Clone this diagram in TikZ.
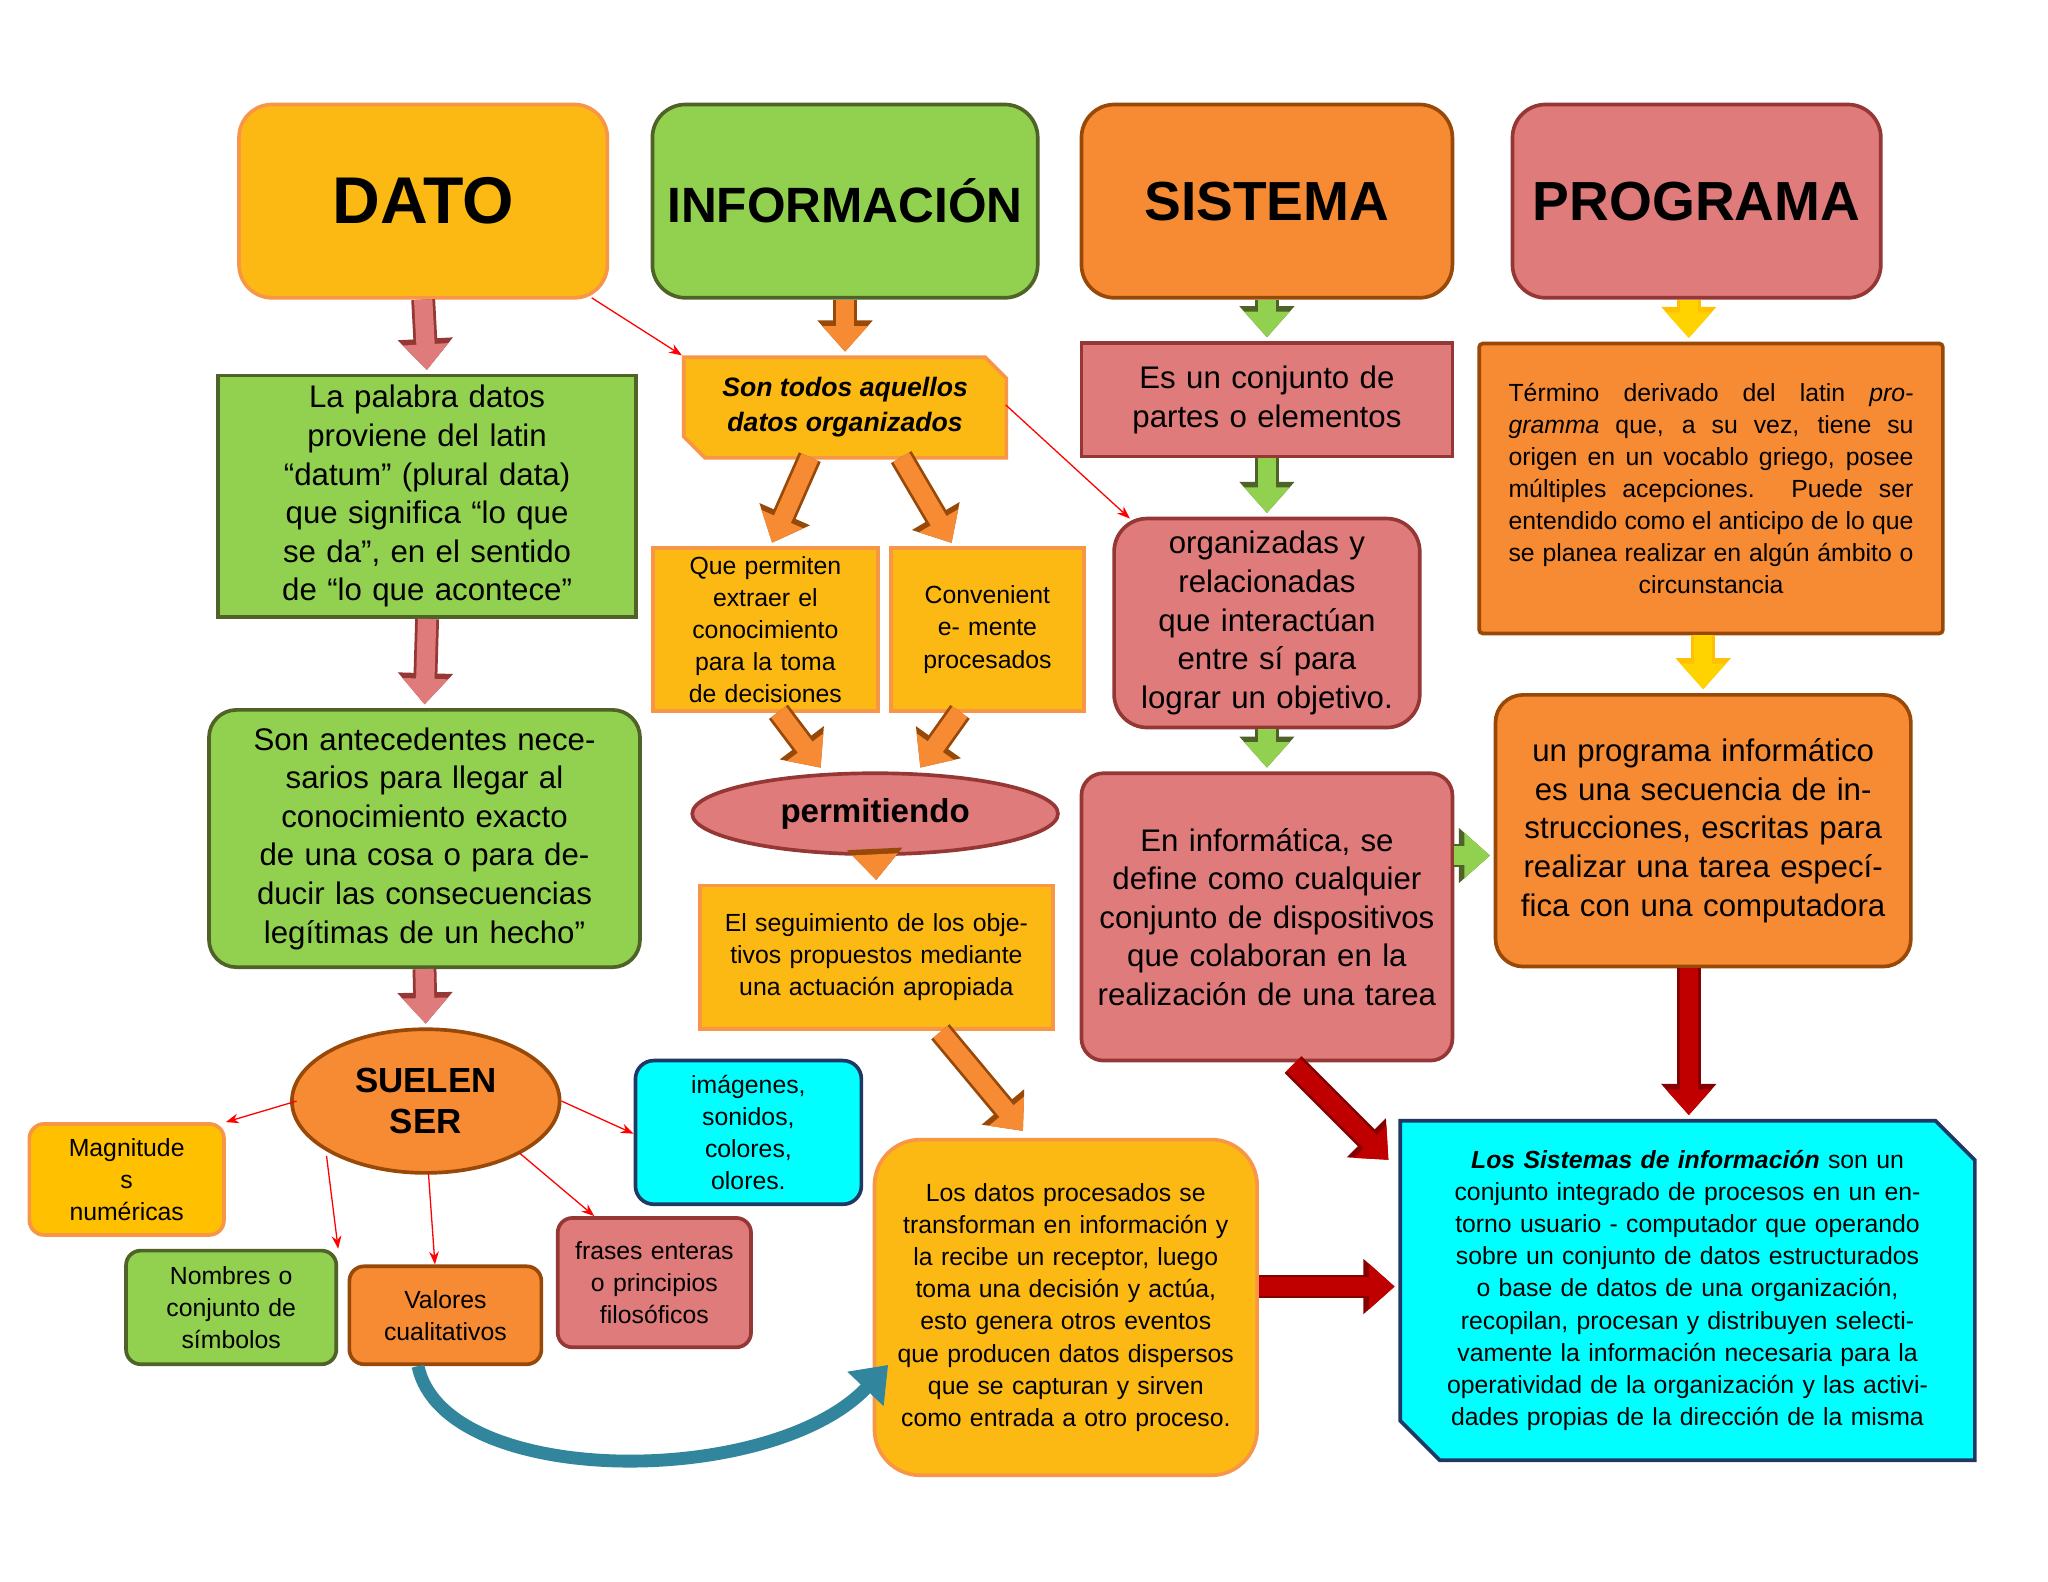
\documentclass[tikz,border=0pt]{standalone}
\usepackage{fontspec}
\setmainfont{Liberation Sans}
\usetikzlibrary{shapes.geometric,shapes.misc,arrows.meta}
\definecolor{cyel}{HTML}{FDB913}
\definecolor{corl}{HTML}{F79646}
\definecolor{cgrn}{HTML}{92D050}
\definecolor{cdgr}{HTML}{4F6228}
\definecolor{corg}{HTML}{F68B33}
\definecolor{cdor}{HTML}{984807}
\definecolor{cpnk}{HTML}{E07B7B}
\definecolor{cdrd}{HTML}{953735}
\definecolor{ccyn}{HTML}{00FFFF}
\definecolor{cdbl}{HTML}{1F3864}
\definecolor{cred}{HTML}{C00000}
\definecolor{cteal}{HTML}{31859C}
\definecolor{cgold}{HTML}{FFC000}
\tikzset{
 x=0.025cm, y=-0.025cm,
 bx/.style 2 args={minimum width=#1*0.025cm, minimum height=#2*0.025cm, inner sep=2pt, align=center, line width=2pt},
 ttl/.style={font=\bfseries\fontsize{30}{34}\selectfont},
 big/.style={font=\fontsize{17}{21}\selectfont},
 sml/.style={font=\fontsize{13.5}{17.5}\selectfont},
 thin/.style={draw=red, line width=0.7pt, -{Stealth[length=7pt]}},
 blk/.style 2 args={draw=#2, line width=10pt, -{Triangle[length=14pt,width=24pt]}, shorten >=2pt,
   preaction={draw=#1, line width=13pt, -{Triangle[length=17pt,width=29pt]}}},
}
\begin{document}
\begin{tikzpicture}
\useasboundingbox[fill=white] (0,0) rectangle (1568,1211);
% titles
\node[bx={282}{148},ttl,rounded corners=18pt,fill=cyel,draw=corl] (dato) at (324,154) {\fontsize{36}{40}\selectfont DATO};
\node[bx={295}{148},ttl,rounded corners=18pt,fill=cgrn,draw=cdgr] (info) at (647,154) {\fontsize{27}{30}\selectfont INFORMACIÓN};
\node[bx={284}{148},ttl,rounded corners=18pt,fill=corg,draw=cdor] (sis) at (970,154) {SISTEMA};
\node[bx={282}{148},ttl,rounded corners=18pt,fill=cpnk,draw=cdrd] (prog) at (1299,154) {PROGRAMA};
% DATO column
\node[bx={320}{185},big,fill=cgrn,draw=cdgr,text width=280*0.025cm] (d1) at (327,380) {La palabra datos proviene del latin “datum” (plural data) que significa “lo que se da”, en el sentido de “lo que acontece”};
\node[bx={330}{197},big,fill=cgrn,draw=cdgr,rounded corners=15pt,text width=290*0.025cm] (d2) at (325,642) {Son antecedentes necesarios para llegar al conocimiento exacto de una cosa o para deducir las consecuencias legítimas de un hecho”};
\node[ellipse,bx={205}{110},fill=corg,draw=cdor,font=\bfseries\fontsize{19}{22}\selectfont] (sue) at (326,843) {SUELEN\\SER};
\node[bx={149}{85},sml,fill=cgold,draw=corl,rounded corners=8pt,text width=120*0.025cm] (mag) at (97,903) {Magnitude\\s\\numéricas};
\node[bx={161}{87},sml,fill=cgrn,draw=cdgr,rounded corners=8pt,text width=140*0.025cm] (nom) at (177,1001) {Nombres o conjunto de símbolos};
\node[bx={147}{75},sml,fill=corg,draw=cdor,rounded corners=8pt,text width=130*0.025cm] (val) at (341,1007) {Valores\\cualitativos};
\node[bx={148}{99},sml,fill=cpnk,draw=cdrd,rounded corners=8pt,text width=130*0.025cm] (fra) at (501,982) {frases enteras o principios filosóficos};
\node[bx={173}{110},sml,fill=ccyn,draw=cdbl,rounded corners=10pt,text width=150*0.025cm] (ima) at (573,867) {imágenes,\\sonidos,\\colores,\\olores.};
% INFORMACION column
\node[chamfered rectangle,chamfered rectangle corners={north east,south west},chamfered rectangle xsep=8pt,bx={247}{77},fill=cyel,draw=corl,font=\bfseries\itshape\fontsize{14.5}{19}\selectfont] (st) at (647,312) {Son todos aquellos\\datos organizados};
\node[bx={172}{125},sml,fill=cyel,draw=corl,text width=160*0.025cm] (qp) at (586,482) {Que permiten extraer el conocimiento para la toma de decisiones};
\node[bx={148}{125},sml,fill=cyel,draw=corl,text width=135*0.025cm] (cv) at (756,482) {Convenient\\e- mente\\procesados};
\node[ellipse,bx={280}{62},fill=cpnk,draw=cdrd,font=\bfseries\fontsize{18}{22}\selectfont] (per) at (670,623) {permitiendo};
\node[bx={270}{110},sml,fill=cyel,draw=corl,text width=250*0.025cm] (seg) at (671,733) {El seguimiento de los objetivos propuestos mediante una actuación apropiada};
\node[bx={293}{257},sml,fill=cyel,draw=corl,rounded corners=25pt,text width=270*0.025cm] (ldp) at (816,1001) {Los datos procesados se transforman en información y la recibe un receptor, luego toma una decisión y actúa, esto genera otros eventos que producen datos dispersos que se capturan y sirven como entrada a otro proceso.};
% SISTEMA column
\node[bx={284}{87},big,fill=cpnk,draw=cdrd,text width=260*0.025cm] (s1) at (970,306) {Es un conjunto de partes o elementos};
\node[bx={234}{160},big,fill=cpnk,draw=cdrd,rounded corners=18pt,text width=215*0.025cm] (s2) at (970,477) {organizadas y relacionadas que interactúan entre sí para lograr un objetivo.};
\node[bx={284}{220},big,fill=cpnk,draw=cdrd,rounded corners=12pt,text width=265*0.025cm] (s3) at (970,702) {En informática, se define como cualquier conjunto de dispositivos que colaboran en la realización de una tarea};
% PROGRAMA column
\node[bx={355}{222},sml,fill=corg,draw=cdor,rounded corners=2pt,text width=310*0.025cm,align=justify] (p1) at (1310,374) {Término derivado del latin \textit{programma} que, a su vez, tiene su origen en un vocablo griego, posee múltiples acepciones. Puede ser entendido como el anticipo de lo que se planea realizar en algún ámbito o \centerline{circunstancia}};
\node[bx={318}{208},big,fill=corg,draw=cdor,rounded corners=15pt,text width=290*0.025cm] (p2) at (1304,636) {un programa informático es una secuencia de instrucciones, escritas para realizar una tarea específica con una computadora};
\node[chamfered rectangle,chamfered rectangle corners={north east,south west},chamfered rectangle xsep=18pt,bx={440}{260},sml,fill=ccyn,draw=cdbl,text width=370*0.025cm] (ls) at (1292,988) {\textbf{\textit{Los Sistemas de información}} son un conjunto integrado de procesos en un entorno usuario - computador que operando sobre un conjunto de datos estructurados o base de datos de una organización, recopilan, procesan y distribuyen selectivamente la información necesaria para la operatividad de la organización y las actividades propias de la dirección de la misma};
% block arrows
\draw[blk={cdrd}{cpnk}] (dato.south) -- (d1.north);
\draw[blk={cdrd}{cpnk}] (d1.south) -- (d2.north);
\draw[blk={cdrd}{cpnk}] (d2.south) -- (sue.north);
\draw[blk={cdor}{corg}] (info.south) -- (st.north);
\draw[blk={cdor}{corg}] (620,350) -- (qp.north-|590,0);
\draw[blk={cdor}{corg}] (690,350) -- (cv.north-|730,0);
\draw[blk={cdor}{corg}] (596,545) -- (630,590);
\draw[blk={cdor}{corg}] (735,545) -- (703,590);
\draw[blk={cdor}{corg}] (per.south) -- (seg.north);
\draw[blk={cdor}{corg}] (720,790) -- (785,868);
\draw[blk={cdgr}{cgrn}] (sis.south) -- (s1.north);
\draw[blk={cdgr}{cgrn}] (s1.south) -- (s2.north);
\draw[blk={cdgr}{cgrn}] (s2.south) -- (s3.north);
\draw[blk={cdgr}{cgrn}] (s3.east|-0,655) -- (p2.west|-0,655);
\draw[blk={cgold}{cgold!70!yellow}] (prog.south-|1293,0) -- (p1.north-|1293,0);
\draw[blk={cgold}{cgold!70!yellow}] (p1.south-|1304,0) -- (p2.north-|1304,0);
\draw[blk={cred!70!black}{cred}] (p2.south-|1293,0) -- (ls.north-|1293,0);
\draw[blk={cred!70!black}{cred}] (990,815) -- (1065,890);
\draw[blk={cred!70!black}{cred}] (ldp.east|-0,985) -- (ls.west|-0,985);
% thin arrows
\draw[thin] (453,228) -- (st.north west);
\draw[thin] (770,310) -- (865,397);
\draw[thin] (sue.west) ++(5,0) -- (mag.north east);
\draw[thin] (250,885) -- (nom.north east);
\draw[thin] (328,898) -- (val.north-|333,0);
\draw[thin] (398,883) -- (fra.north-|455,0);
\draw[thin] (sue.east) -- (ima.west|-0,868);
% curved arrow
\draw[cteal,line width=7pt,-{Triangle[length=18pt,width=26pt]}] (val.south-|320,0) .. controls (340,1140) and (590,1140) .. (680,1045);
\end{tikzpicture}
\end{document}
